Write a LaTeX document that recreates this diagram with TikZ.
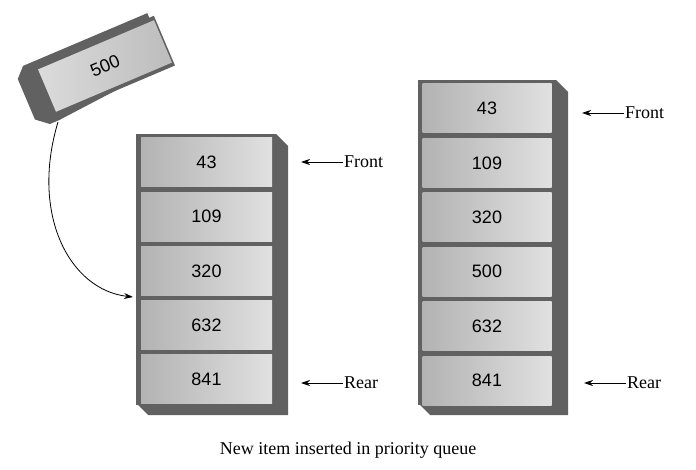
\documentclass[tikz,border=0pt]{standalone}
\usepackage{fontspec}
\setmainfont{Liberation Serif}
\newfontfamily\numf{Liberation Sans}
\usetikzlibrary{arrows.meta}
\begin{document}
\begin{tikzpicture}[x=1pt,y=-1pt,
  frame/.style={fill=black!62,draw=none},
  shadow/.style={fill=black!62,draw=none},
  cell/.style={left color=black!30,right color=black!12,draw=none,minimum width=131pt,minimum height=49pt,inner sep=0pt,font=\numf\fontsize{18}{18}\selectfont},
  lab/.style={font=\fontsize{18}{18}\selectfont,anchor=west,inner sep=1pt},
  arr/.style={-{Stealth[length=9pt,width=6pt]},thick}]
\useasboundingbox (0,0) rectangle (696,470);
% left stack
\fill[shadow] (276,134)--(288,146)--(288,415)--(148,415)--(136,403)--cycle;
\fill[frame] (136,134) rectangle (276,405);
\foreach \t [count=\i from 0] in {43,109,320,632,841}
  \node[cell] (l\i) at (206.5,162.5+54.2*\i) {\t};
% right stack
\fill[shadow] (556,80)--(568,92)--(568,415)--(430,415)--(418,403)--cycle;
\fill[frame] (418,80) rectangle (556,405);
\foreach \t [count=\i from 0] in {43,109,320,500,632,841}
  \node[cell,minimum width=129pt] (r\i) at (487,108.5+54.4*\i) {\t};
% moving box
\begin{scope}[shift={(100,68)},rotate=23]
  \fill[shadow] (-80,-22)--(-70,-32)--(65,-32)--(65,22)--(-58,32)--(-68,32)--(-80,22)--cycle;
  \fill[shadow] (-70,-27) rectangle (70,27);
\end{scope}
\node[cell,minimum width=126pt,minimum height=46pt,rotate=23,left color=black!14,right color=black!26] (m) at (105,66) {500};
\coordinate (ms) at (58,122);
\coordinate (mt) at (133,297);
\draw[arr] (ms) .. controls (30,215) and (70,290) .. (mt);
% labels
\node[lab] (f1) at (343,162) {Front};
\draw[arr] (f1.west) -- ++(-42,0);
\node[lab] (r1) at (343,383) {Rear};
\draw[arr] (r1.west) -- ++(-42,0);
\node[lab] (f2) at (624,113) {Front};
\draw[arr] (f2.west) -- ++(-42,0);
\node[lab] (r2) at (626,383) {Rear};
\draw[arr] (r2.west) -- ++(-42,0);
\node[font=\fontsize{18}{18}\selectfont] (cap) at (348,450) {New item inserted in priority queue};
\end{tikzpicture}
\end{document}
